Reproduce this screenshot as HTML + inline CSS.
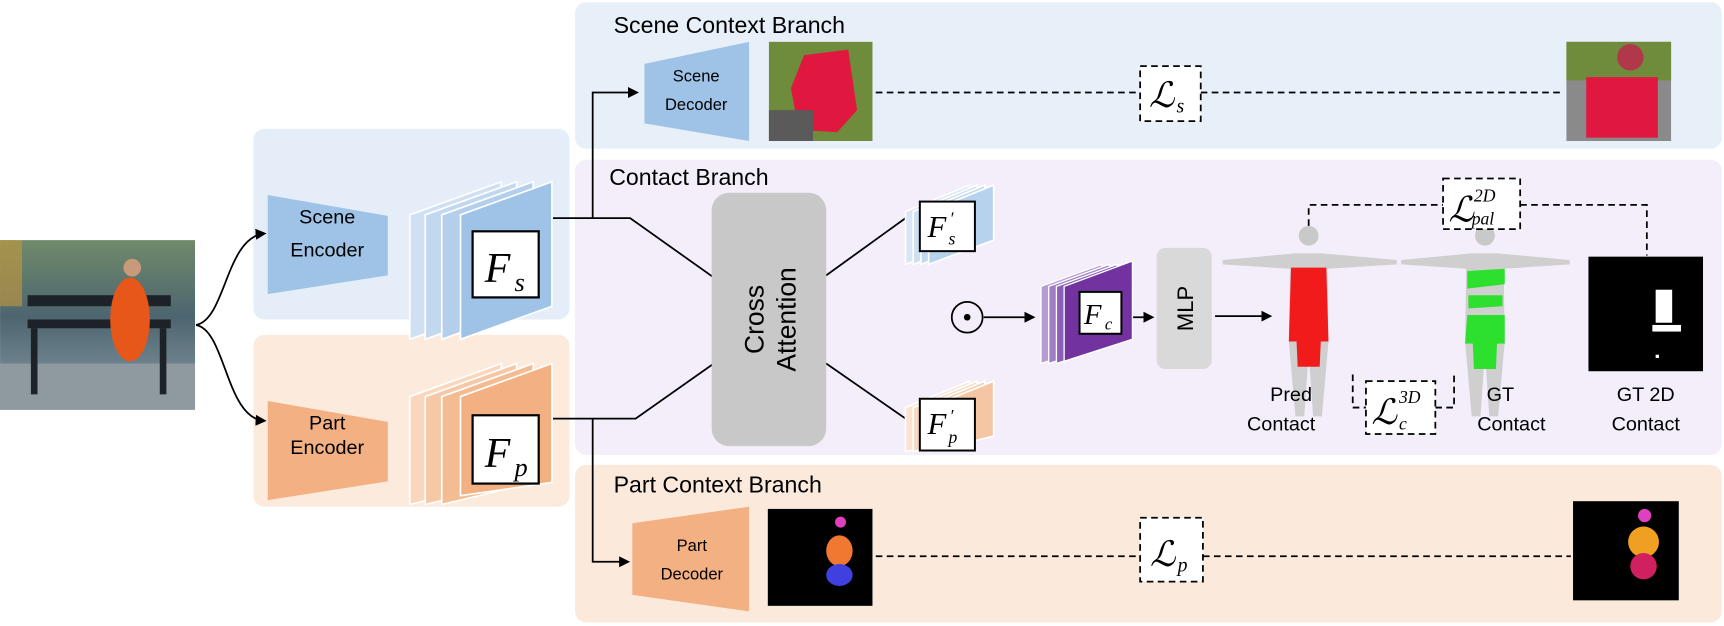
<!DOCTYPE html>
<html><head><meta charset="utf-8"><style>
html,body{margin:0;padding:0;background:#fff}
svg{display:block}
text{font-family:"Liberation Sans",sans-serif}
.m{font-family:"Liberation Serif",serif;font-style:italic}
</style></head><body>
<svg width="1724" height="626" viewBox="0 0 1565 568.3" xmlns="http://www.w3.org/2000/svg">
<defs>
<marker id="a" markerWidth="10" markerHeight="10" refX="8" refY="5" orient="auto" markerUnits="userSpaceOnUse"><path d="M0,0 L10,5 L0,10 z" fill="#000"/></marker>
<linearGradient id="ph" x1="0" y1="0" x2="0" y2="1"><stop offset="0" stop-color="#6f8a6a"/><stop offset="0.45" stop-color="#4d6570"/><stop offset="1" stop-color="#8a9ca6"/></linearGradient>
</defs>

<!-- panels -->
<rect x="522" y="2" width="1041" height="133" rx="10" fill="#e7eff8"/>
<rect x="522" y="145" width="1041" height="268" rx="10" fill="#f3eefa"/>
<rect x="522" y="422" width="1041" height="143" rx="10" fill="#fbeadc"/>
<rect x="230" y="117" width="287" height="173" rx="10" fill="#e5eef8"/>
<rect x="230" y="304" width="287" height="156" rx="10" fill="#fcebdd"/>
<text x="557" y="30" font-size="21">Scene Context Branch</text>
<text x="553" y="168" font-size="21">Contact Branch</text>
<text x="557" y="447" font-size="21">Part Context Branch</text>

<!-- photo -->
<rect x="0" y="218" width="177" height="154" fill="url(#ph)"/>
<rect x="0" y="330" width="177" height="42" fill="#8f9aa0"/>
<rect x="25" y="268" width="130" height="10" fill="#1d2228"/>
<rect x="25" y="290" width="130" height="8" fill="#1d2228"/>
<rect x="28" y="298" width="6" height="60" fill="#1d2228"/>
<rect x="145" y="298" width="6" height="60" fill="#1d2228"/>
<ellipse cx="118" cy="290" rx="18" ry="38" fill="#e8571a"/>
<circle cx="120" cy="243" r="8" fill="#c99a7a"/>
<rect x="0" y="218" width="20" height="60" fill="#c89a3a" opacity="0.6"/>

<!-- arrows from photo -->
<path d="M178,295 C205,290 205,215 240,212" fill="none" stroke="#000" stroke-width="1.6" marker-end="url(#a)"/>
<path d="M178,295 C205,300 205,380 240,382" fill="none" stroke="#000" stroke-width="1.6" marker-end="url(#a)"/>

<!-- scene encoder -->
<polygon points="243,177 352,196 352,250 243,267" fill="#9fc3e6"/>
<text x="297" y="203" font-size="18" text-anchor="middle">Scene</text>
<text x="297" y="233" font-size="18" text-anchor="middle">Encoder</text>
<g stroke="#fff" stroke-width="1.5">
<polygon points="372,195 455,165 455,278 372,308" fill="#cfe0f2"/>
<polygon points="386,195 469,165 469,278 386,308" fill="#c2d8ef"/>
<polygon points="401,195 484,165 484,278 401,308" fill="#b3cfeb"/>
<polygon points="418,195 501,165 501,278 418,308" fill="#9fc3e6"/>
</g>
<rect x="429" y="210" width="60" height="60" fill="#fff" stroke="#000" stroke-width="2"/>
<text x="440" y="256" font-size="38" class="m">F</text><text x="467" y="264" font-size="24" class="m">s</text>

<!-- part encoder -->
<polygon points="243,364 352,383 352,437 243,454" fill="#f2b083"/>
<text x="297" y="390" font-size="18" text-anchor="middle">Part</text>
<text x="297" y="412" font-size="18" text-anchor="middle">Encoder</text>
<g stroke="#fff" stroke-width="1.5">
<polygon points="372,360 455,330 455,438 372,458" fill="#f9d6bc"/>
<polygon points="386,360 469,330 469,438 386,458" fill="#f6c8a6"/>
<polygon points="401,360 484,330 484,438 401,458" fill="#f4bc93"/>
<polygon points="418,360 501,330 501,438 418,450" fill="#f2b083"/>
</g>
<rect x="429" y="377" width="60" height="62" fill="#fff" stroke="#000" stroke-width="2"/>
<text x="440" y="424" font-size="38" class="m">F</text><text x="467" y="432" font-size="24" class="m">p</text>

<!-- connectors -->
<g fill="none" stroke="#000" stroke-width="1.6">
<path d="M502,198 L572,198 L648,252"/>
<path d="M538,198 L538,84 L578,84" marker-end="url(#a)"/>
<path d="M502,380 L577,380 L648,330"/>
<path d="M538,380 L538,510 L570,510" marker-end="url(#a)"/>
<path d="M750,250 L822,198"/>
<path d="M750,330 L822,380"/>
<path d="M893,288 L938,288" marker-end="url(#a)"/>
<path d="M1028,288 L1046,288" marker-end="url(#a)"/>
<path d="M1103,287 L1153,287" marker-end="url(#a)"/>
</g>

<!-- cross attention -->
<rect x="646" y="175" width="104" height="230" rx="16" fill="#c8c8c8"/>
<text transform="translate(693,290) rotate(-90)" font-size="24" text-anchor="middle">Cross</text>
<text transform="translate(722,290) rotate(-90)" font-size="24" text-anchor="middle">Attention</text>

<!-- F's -->
<g stroke="#fff" stroke-width="1.5">
<polygon points="822,192 880,168 880,218 822,240" fill="#d9e6f4"/>
<polygon points="829,192 887,168 887,218 829,240" fill="#cddff0"/>
<polygon points="836,192 894,168 894,218 836,240" fill="#c2d8ef"/>
<polygon points="843,192 902,168 902,218 843,240" fill="#b7d2ec"/>
<polygon points="822,370 880,346 880,396 822,410" fill="#fbe3d1"/>
<polygon points="829,370 887,346 887,396 829,410" fill="#f9d8c0"/>
<polygon points="836,370 894,346 894,396 836,410" fill="#f7ceb0"/>
<polygon points="843,370 902,346 902,396 843,410" fill="#f5c6a4"/>
</g>
<rect x="835" y="183" width="50" height="45" fill="#fff" stroke="#000" stroke-width="1.8"/>
<text x="842" y="215" font-size="28" class="m">F</text><text x="862" y="204" font-size="16" class="m">′</text><text x="861" y="222" font-size="16" class="m">s</text>
<rect x="835" y="362" width="50" height="47" fill="#fff" stroke="#000" stroke-width="1.8"/>
<text x="842" y="394" font-size="28" class="m">F</text><text x="862" y="383" font-size="16" class="m">′</text><text x="861" y="402" font-size="16" class="m">p</text>

<!-- odot -->
<circle cx="878" cy="288" r="14" fill="none" stroke="#000" stroke-width="1.6"/>
<circle cx="878" cy="288" r="3" fill="#000"/>

<!-- Fc -->
<g stroke="#fff" stroke-width="1.2">
<polygon points="945,260 1000,240 1000,312 945,330" fill="#b79bd3"/>
<polygon points="952,260 1007,240 1007,312 952,330" fill="#a07ec6"/>
<polygon points="959,260 1014,240 1014,312 959,330" fill="#8a61b8"/>
<polygon points="966,260 1028,237 1028,308 966,328" fill="#7232a0"/>
</g>
<rect x="980" y="265" width="38" height="38" fill="#fff" stroke="#000" stroke-width="1.8"/>
<text x="984" y="294" font-size="26" class="m">F</text><text x="1003" y="299" font-size="15" class="m">c</text>

<!-- MLP -->
<rect x="1050" y="225" width="50" height="110" rx="8" fill="#d9d9d9"/>
<text transform="translate(1083,280) rotate(-90)" font-size="20" text-anchor="middle">MLP</text>

<!-- bodies -->
<g>
<circle cx="1188" cy="214" r="9" fill="#c9c9c9"/>
<path d="M1110,236 L1176,230 L1200,230 L1268,236 L1268,240 L1205,244 L1206,310 L1200,378 L1192,378 L1188,320 L1184,378 L1176,378 L1170,310 L1171,244 L1110,240 z" fill="#cfcfcf"/>
<path d="M1172,243 L1204,243 L1206,310 L1199,310 L1198,333 L1178,333 L1177,310 L1170,310 z" fill="#f21b1b"/>
<circle cx="1348" cy="214" r="9" fill="#c9c9c9"/>
<path d="M1272,236 L1336,230 L1360,230 L1425,236 L1425,240 L1365,244 L1366,310 L1360,378 L1352,378 L1348,320 L1344,378 L1336,378 L1330,310 L1331,244 L1272,240 z" fill="#cfcfcf"/>
<path d="M1332,246 L1366,244 L1366,258 L1332,262 z" fill="#2ee02e"/>
<path d="M1333,268 L1364,268 L1364,278 L1333,280 z" fill="#2ee02e"/>
<path d="M1332,286 L1366,286 L1366,312 L1359,312 L1358,335 L1338,335 L1337,312 L1330,312 z" fill="#2ee02e"/>
</g>
<rect x="1442" y="233" width="104" height="104" fill="#000"/>
<rect x="1503" y="263" width="15" height="30" fill="#fff"/>
<rect x="1500" y="295" width="26" height="6" fill="#fff"/>
<rect x="1503" y="322" width="3" height="3" fill="#fff"/>
<text x="1172" y="364" font-size="18" text-anchor="middle">Pred</text>
<text x="1163" y="391" font-size="18" text-anchor="middle">Contact</text>
<text x="1362" y="364" font-size="18" text-anchor="middle">GT</text>
<text x="1372" y="391" font-size="18" text-anchor="middle">Contact</text>
<text x="1494" y="364" font-size="18" text-anchor="middle">GT 2D</text>
<text x="1494" y="391" font-size="18" text-anchor="middle">Contact</text>

<!-- dashed losses -->
<g fill="none" stroke="#000" stroke-width="1.6" stroke-dasharray="6,4">
<path d="M1188,205 L1188,186 L1310,186"/>
<path d="M1380,186 L1495,186 L1495,232"/>
<rect x="1310" y="162" width="70" height="46" fill="#fff"/>
<path d="M1228,340 L1228,370 L1240,370"/>
<path d="M1303,370 L1320,370 L1320,340"/>
<rect x="1240" y="346" width="63" height="48" fill="#fff"/>
<path d="M795,84 L1035,84"/><path d="M1090,84 L1420,84"/>
<rect x="1035" y="60" width="55" height="50" fill="#fff"/>
<path d="M795,505 L1035,505"/><path d="M1092,505 L1426,505"/>
<rect x="1035" y="470" width="57" height="58" fill="#fff"/>
</g>
<text x="1315" y="201" font-size="32" font-family="Liberation Serif" font-style="italic">ℒ</text>
<text x="1338" y="183" font-size="16" class="m">2D</text><text x="1336" y="204" font-size="16" class="m">pal</text>
<text x="1245" y="385" font-size="32" font-family="Liberation Serif" font-style="italic">ℒ</text>
<text x="1270" y="366" font-size="16" class="m">3D</text><text x="1270" y="390" font-size="16" class="m">c</text>
<text x="1043" y="97" font-size="32" font-family="Liberation Serif" font-style="italic">ℒ</text><text x="1068" y="102" font-size="18" class="m">s</text>
<text x="1044" y="514" font-size="32" font-family="Liberation Serif" font-style="italic">ℒ</text><text x="1069" y="519" font-size="18" class="m">p</text>

<!-- scene decoder -->
<polygon points="585,58 680,38 680,128 585,112" fill="#9fc3e6"/>
<text x="632" y="74" font-size="15" text-anchor="middle">Scene</text>
<text x="632" y="100" font-size="15" text-anchor="middle">Decoder</text>
<rect x="698" y="38" width="94" height="90" fill="#6f8c3c"/>
<path d="M730,50 L770,45 L778,100 L760,120 L725,118 L718,80 z" fill="#e0173f"/>
<rect x="698" y="100" width="40" height="28" fill="#5a5a5a"/>
<rect x="1422" y="38" width="95" height="90" fill="#8a8a8a"/>
<rect x="1422" y="38" width="95" height="35" fill="#6f8c3c"/>
<rect x="1440" y="70" width="65" height="55" fill="#e0173f"/>
<circle cx="1480" cy="52" r="12" fill="#b0384a"/>

<!-- part decoder -->
<polygon points="574,475 680,460 680,555 574,540" fill="#f2b083"/>
<text x="628" y="500" font-size="15" text-anchor="middle">Part</text>
<text x="628" y="526" font-size="15" text-anchor="middle">Decoder</text>
<rect x="697" y="462" width="95" height="88" fill="#000"/>
<circle cx="763" cy="474" r="5" fill="#e040c0"/>
<ellipse cx="762" cy="500" rx="12" ry="14" fill="#f07830"/>
<ellipse cx="762" cy="522" rx="12" ry="10" fill="#4040e0"/>
<rect x="1428" y="455" width="96" height="90" fill="#000"/>
<circle cx="1493" cy="468" r="6" fill="#e040c0"/>
<ellipse cx="1492" cy="492" rx="14" ry="14" fill="#f0a020"/>
<ellipse cx="1492" cy="514" rx="12" ry="12" fill="#d02060"/>
</svg>
</body></html>
